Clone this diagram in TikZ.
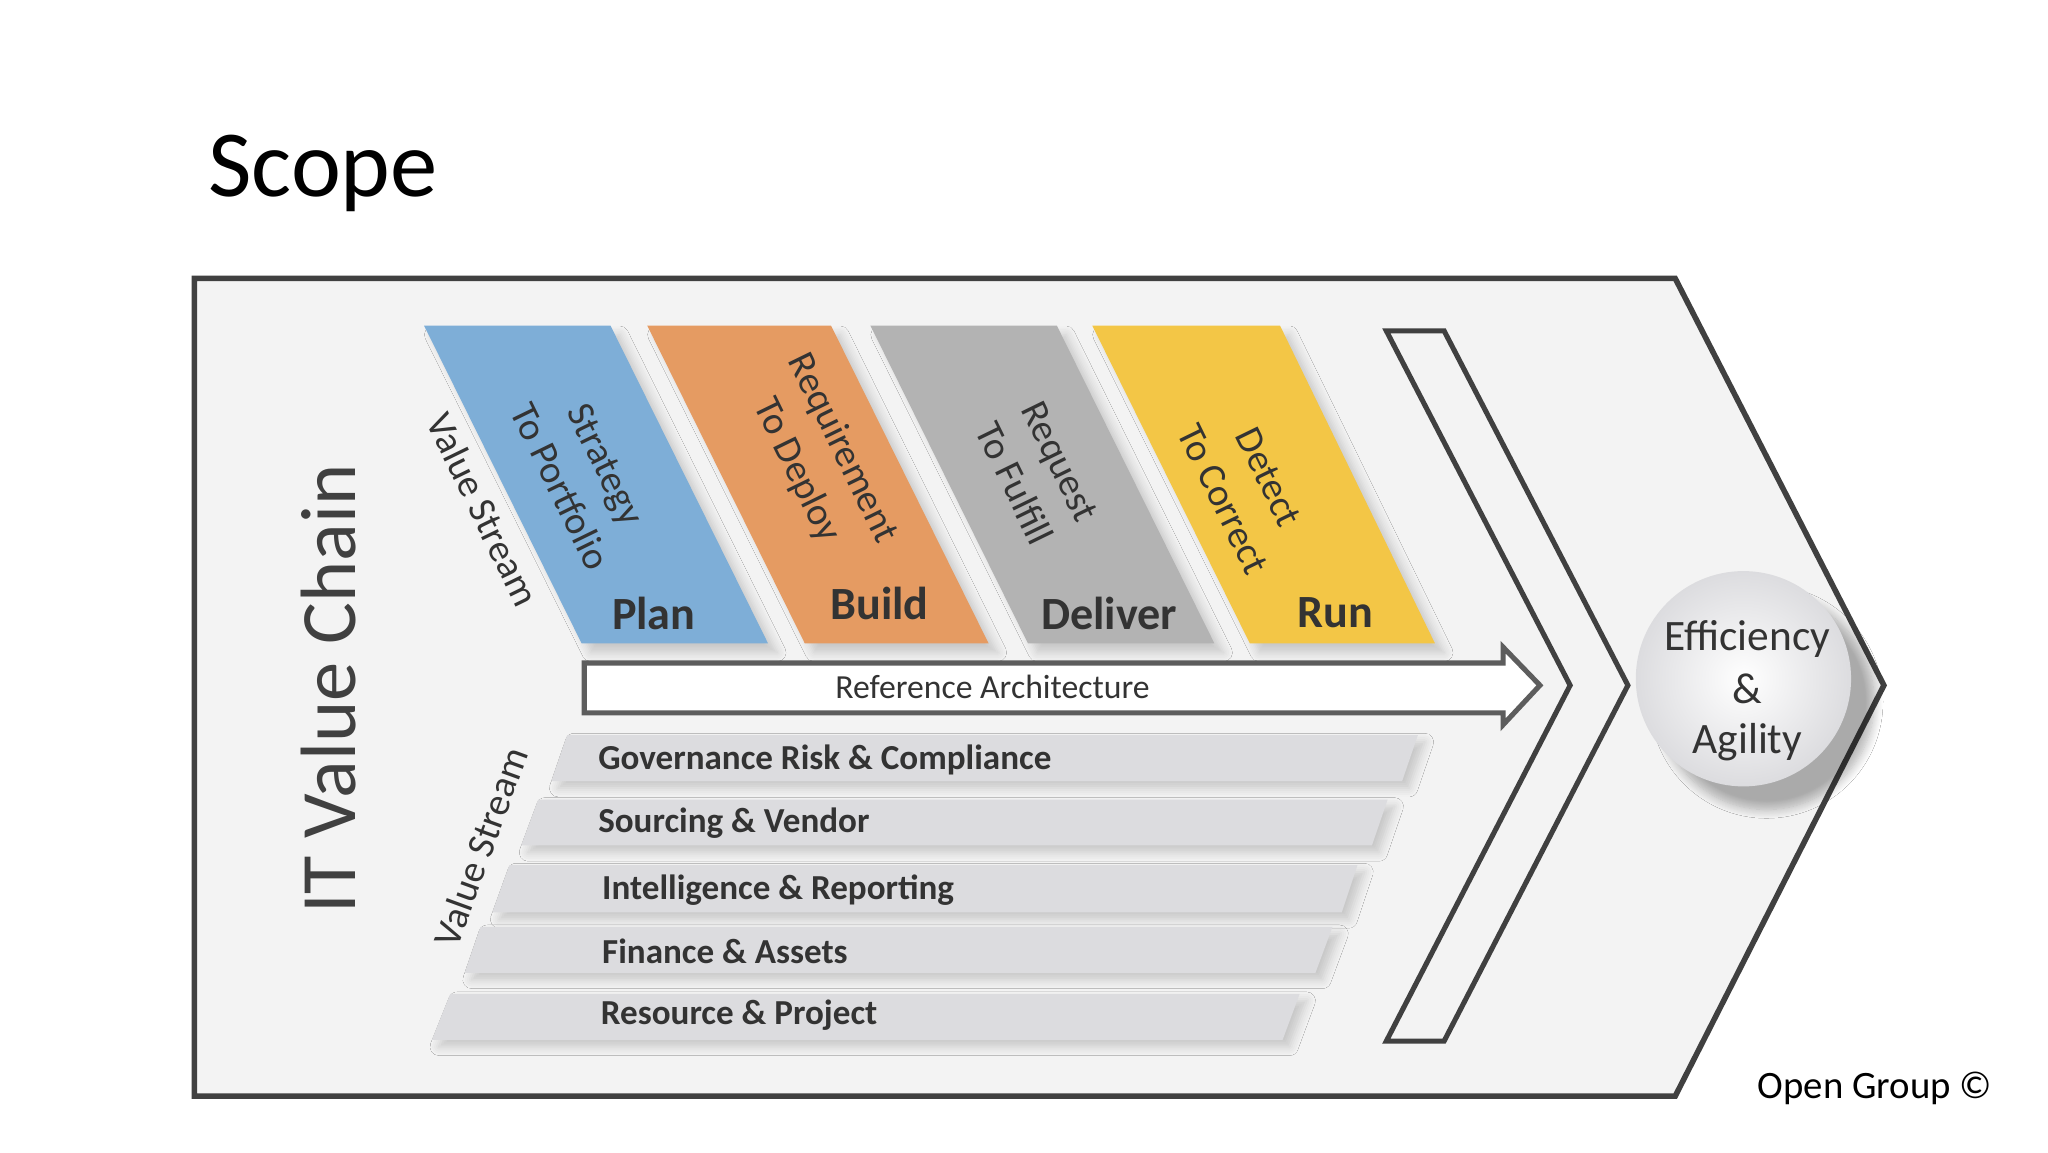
\documentclass[tikz,border=0pt]{standalone}
\usepackage{fontspec}
\setmainfont{Carlito}
\usetikzlibrary{shadows.blur}
\definecolor{bgc}{HTML}{F3F3F3}
\definecolor{edge}{HTML}{404040}
\definecolor{txt}{HTML}{333333}
\definecolor{cblue}{HTML}{7EAED7}
\definecolor{corange}{HTML}{E59B62}
\definecolor{cgray}{HTML}{B3B3B3}
\definecolor{cyellow}{HTML}{F3C646}
\definecolor{barc}{HTML}{DCDCDF}
\tikzset{
  colbar/.style={blur shadow={shadow xshift=2pt,shadow yshift=-2pt,shadow blur steps=6,shadow opacity=18}},
  lowbar/.style={fill=barc,blur shadow={shadow xshift=1.5pt,shadow yshift=-1.5pt,shadow blur steps=5,shadow opacity=18}},
  rottxt/.style={text=txt,font=\fontsize{8.4}{11}\selectfont,align=center,rotate=-64,inner sep=0pt},
  phase/.style={text=txt,font=\fontsize{10}{12}\selectfont\bfseries,inner sep=0pt},
  lowtxt/.style={text=txt,font=\fontsize{7.6}{10}\selectfont\bfseries,anchor=west,inner sep=0pt},
}
\begin{document}
\begin{tikzpicture}[x=0.01cm,y=-0.01cm]
\useasboundingbox (0,0) rectangle (1560,878);
\fill[white] (0,0) rectangle (1560,878);
\node[anchor=west,inner sep=0pt,font=\fontsize{20.5}{24}\selectfont] (scope) at (158,132) {Scope};
\draw[edge,line width=1.2pt,fill=bgc] (148,212) -- (1276,212) -- (1435,522) -- (1276,835) -- (148,835) -- cycle;
% top bars
\fill[cblue,colbar] (323,248) -- (465,248) -- (585,490) -- (443,490) -- cycle;
\fill[corange,colbar] (493,248) -- (633,248) -- (753,490) -- (613,490) -- cycle;
\fill[cgray,colbar] (663,248) -- (805,248) -- (925,490) -- (783,490) -- cycle;
\fill[cyellow,colbar] (832,248) -- (975,248) -- (1093,490) -- (952,490) -- cycle;
\node[rottxt] (vs1) at (368,388) {Value Stream};
\node[rottxt] (s2p) at (444,362) {Strategy\\To Portfolio};
\node[rottxt] (r2d) at (624,350) {Requirement\\To Deploy};
\node[rottxt] (r2f) at (790,360) {Request\\To Fulfill};
\node[rottxt] (d2c) at (949,372) {Detect\\To Correct};
\node[phase] (plan) at (498,467) {Plan};
\node[phase] (build) at (670,460) {Build};
\node[phase] (deliver) at (845,467) {Deliver};
\node[phase] (run) at (1017,467) {Run};
% reference architecture arrow
\draw[edge!85,line width=1.1pt,fill=white] (445,505) -- (1145,505) -- (1145,493) -- (1173,522) -- (1145,552) -- (1145,543) -- (445,543) -- cycle;
\node[text=txt,font=\fontsize{7.3}{9}\selectfont,inner sep=0pt] (ra) at (756,523) {Reference Architecture};
% big chevron
\draw[edge,line width=1.1pt,fill=bgc] (1056,252) -- (1100,252) -- (1240,522) -- (1100,793) -- (1056,793) -- (1196,522) -- cycle;
% lower bars
\path[lowbar] (432,560) -- (1080,560) -- (1068,595) -- (420,595) -- cycle;
\path[lowbar] (410,609) -- (1057,609) -- (1045,644) -- (397,644) -- cycle;
\path[lowbar] (388,659) -- (1034,659) -- (1022,695) -- (375,695) -- cycle;
\path[lowbar] (366,706) -- (1015,706) -- (1002,741) -- (354,741) -- cycle;
\path[lowbar] (343,757) -- (990,757) -- (977,792) -- (329,792) -- cycle;
\node[lowtxt] (grc) at (455,579) {Governance Risk \& Compliance};
\node[lowtxt] (sv) at (455,627) {Sourcing \& Vendor};
\node[lowtxt] (ir) at (458,678) {Intelligence \& Reporting};
\node[lowtxt] (fa) at (458,725) {Finance \& Assets};
\node[lowtxt] (rp) at (457,773) {Resource \& Project};
\node[rottxt,rotate=134] (vs2) at (366,645) {Value Stream};
\node[rotate=90,text=edge,font=\fontsize{17}{20}\selectfont,inner sep=0pt] (itvc) at (250,525) {IT Value Chain};
% efficiency circle
\shade[inner color=white,outer color=barc,blur shadow={shadow xshift=5pt,shadow yshift=-5pt,shadow blur steps=10,shadow opacity=30}] (1328,517) circle[radius=82];
\node[text=txt,font=\fontsize{9.4}{12}\selectfont,inner sep=0pt] (eff) at (1331,487) {Efficiency};
\node[text=txt,font=\fontsize{9.4}{12}\selectfont,inner sep=0pt] (amp) at (1331,525) {\&};
\node[text=txt,font=\fontsize{9.4}{12}\selectfont,inner sep=0pt] (agi) at (1331,565) {Agility};
\node[anchor=east,inner sep=0pt,font=\fontsize{8.4}{10}\selectfont] (og) at (1518,829) {Open Group ©};
\end{tikzpicture}
\end{document}
